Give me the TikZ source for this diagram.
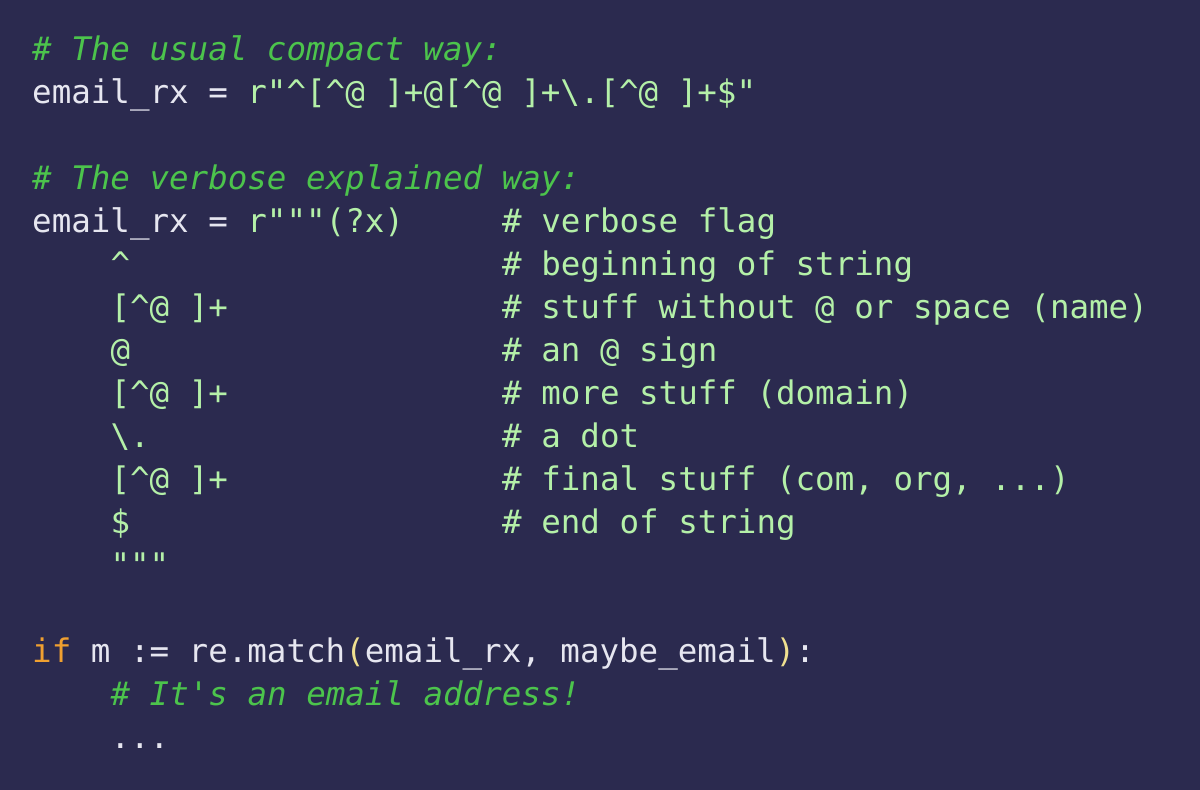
\documentclass[tikz,border=0pt]{standalone}
\usepackage{fontspec}
\setmonofont{DejaVu Sans Mono}
\definecolor{bg}{HTML}{2B2A4F}
\definecolor{fg}{HTML}{E6E6F0}
\definecolor{cm}{HTML}{4CC44C}
\definecolor{st}{HTML}{B4F0A8}
\definecolor{kw}{HTML}{F0A030}
\definecolor{pr}{HTML}{F0E090}
\newcommand{\ca}{\textasciicircum}
\tikzset{ln/.style={anchor=base west,inner sep=0pt,font=\ttfamily\fontsize{32.5}{43}\selectfont,text=fg}}
\begin{document}
\begin{tikzpicture}[x=1pt,y=1pt]
\fill[bg] (0,0) rectangle (1200,-790);
\useasboundingbox (0,0) rectangle (1200,-790);
\def\L#1{-60-43*#1}
\def\cx{32}
\def\rx{502}
\node[ln,text=cm,font=\ttfamily\itshape\fontsize{32.5}{43}\selectfont] (l0) at (\cx,{\L0}) {\# The usual compact way:};
\node[ln] (l1) at (\cx,{\L1}) {email\_rx = \textcolor{st}{r"\ca[\ca@ ]+@[\ca@ ]+\textbackslash.[\ca@ ]+\$"}};
\node[ln,text=cm,font=\ttfamily\itshape\fontsize{32.5}{43}\selectfont] (l3) at (\cx,{\L3}) {\# The verbose explained way:};
\node[ln] (l4) at (\cx,{\L4}) {email\_rx = \textcolor{st}{r"""(?x)}};
\def\ix{110.4}
\node[ln,text=st] (l5) at (\ix,{\L5}) {\ca};
\node[ln,text=st] (l6) at (\ix,{\L6}) {[\ca@ ]+};
\node[ln,text=st] (l7) at (\ix,{\L7}) {@};
\node[ln,text=st] (l8) at (\ix,{\L8}) {[\ca@ ]+};
\node[ln,text=st] (l9) at (\ix,{\L9}) {\textbackslash.};
\node[ln,text=st] (l10) at (\ix,{\L10}) {[\ca@ ]+};
\node[ln,text=st] (l11) at (\ix,{\L11}) {\$};
\node[ln,text=st] (l12) at (\ix,{\L12}) {"""};
\node[ln,text=st] (r4) at (\rx,{\L4}) {\# verbose flag};
\node[ln,text=st] (r5) at (\rx,{\L5}) {\# beginning of string};
\node[ln,text=st] (r6) at (\rx,{\L6}) {\# stuff without @ or space (name)};
\node[ln,text=st] (r7) at (\rx,{\L7}) {\# an @ sign};
\node[ln,text=st] (r8) at (\rx,{\L8}) {\# more stuff (domain)};
\node[ln,text=st] (r9) at (\rx,{\L9}) {\# a dot};
\node[ln,text=st] (r10) at (\rx,{\L10}) {\# final stuff (com, org, ...)};
\node[ln,text=st] (r11) at (\rx,{\L11}) {\# end of string};
\node[ln] (l14) at (\cx,{\L14}) {\textcolor{kw}{if} m := re.match\textcolor{pr}{(}email\_rx, maybe\_email\textcolor{pr}{)}:};
\node[ln,text=cm,font=\ttfamily\itshape\fontsize{32.5}{43}\selectfont] (l15) at (\ix,{\L15}) {\# It's an email address!};
\node[ln] (l16) at (\ix,{\L16}) {...};
\end{tikzpicture}
\end{document}
